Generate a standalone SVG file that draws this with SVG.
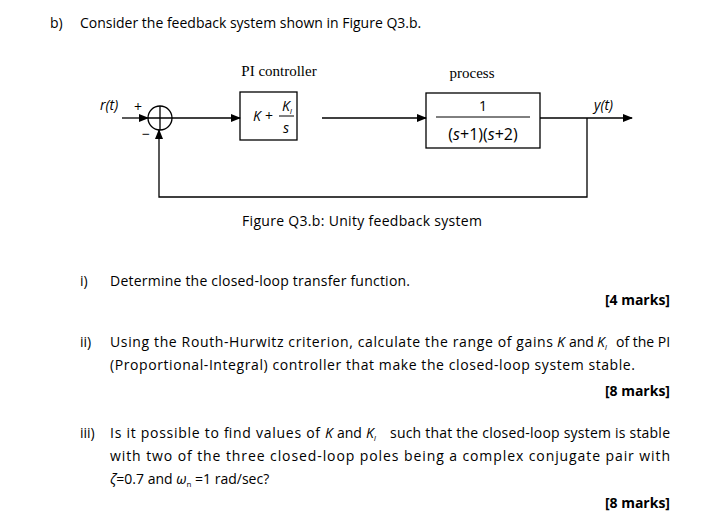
<svg xmlns="http://www.w3.org/2000/svg" width="725" height="516" viewBox="0 0 725 516">
<style>
.t{font-family:"Open Sans","Liberation Sans",sans-serif;font-size:14px;fill:#000}
.s{font-family:"Liberation Serif",serif;font-size:15px}
.m{font-family:"Open Sans","Liberation Sans",sans-serif;font-size:14px;font-style:italic}
.b{font-weight:bold}
.ln{stroke:#000;stroke-width:1.3;fill:none}
</style>
<defs><marker id="a" markerWidth="10" markerHeight="8" refX="9" refY="4" orient="auto" markerUnits="userSpaceOnUse"><path d="M0,0L10,4L0,8z"/></marker></defs>
<rect width="725" height="516" fill="#fff"/>
<text class="t" x="50" y="28">b)</text><text class="t" x="80" y="28">Consider the feedback system shown in Figure Q3.b.</text>
<g id="sum"><circle cx="160" cy="118" r="12" class="ln"/><path d="M148,118H172M160,106V130" class="ln"/>
<text class="m" x="100" y="110">r(t)</text><text class="t" x="134" y="112">+</text><text class="t" x="142" y="139">−</text></g>
<g id="pi"><text class="s" x="279" y="76" text-anchor="middle">PI controller</text><rect x="240" y="92" width="57" height="48" class="ln"/>
<text class="m" x="253" y="121">K</text><text class="t" x="265" y="121">+</text><line x1="279" y1="116" x2="294" y2="116" stroke="#000"/>
<text class="m" x="282" y="111">K<tspan style="font-size:8px" dy="3">I</tspan></text><text class="m" x="283" y="133">s</text></g>
<g id="process"><text class="s" x="472" y="78" text-anchor="middle">process</text><rect x="426" y="93" width="114" height="55" class="ln"/>
<text class="t" x="483" y="111" text-anchor="middle">1</text><line x1="436" y1="117" x2="530" y2="117" stroke="#000"/>
<text class="t" x="483" y="140" text-anchor="middle" style="font-size:16px">(<tspan font-style="italic">s</tspan>+1)(<tspan font-style="italic">s</tspan>+2)</text>
<text class="m" x="594" y="110">y(t)</text></g>
<g id="connectors">
<path d="M122,118H148" class="ln" marker-end="url(#a)"/>
<path d="M172,118H240" class="ln" marker-end="url(#a)"/>
<path d="M322,118H426" class="ln" marker-end="url(#a)"/>
<path d="M540,118H632" class="ln" marker-end="url(#a)"/>
<path d="M587,118V197H159V130" class="ln" marker-end="url(#a)"/>
</g>
<text class="t" x="242" y="226" textLength="240">Figure Q3.b:  Unity feedback system</text>
<text class="t" x="80" y="286">i)</text><text class="t" x="110" y="286" textLength="300">Determine the closed-loop transfer function.</text>
<text class="t b" x="670" y="305" text-anchor="end">[4 marks]</text>
<text class="t" x="80" y="347">ii)</text><text class="t" x="110" y="347" textLength="443">Using the Routh-Hurwitz criterion, calculate the range of gains</text>
<text class="m" x="557" y="347">K</text><text class="t" x="569" y="347">and</text><text class="m" x="597" y="347">K<tspan style="font-size:8px" dy="3">I</tspan></text><text class="t" x="616" y="347">of the PI</text>
<text class="t" x="110" y="370" textLength="525">(Proportional-Integral) controller that make the closed-loop system stable.</text>
<text class="t b" x="670" y="396" text-anchor="end">[8 marks]</text>
<text class="t" x="80" y="438">iii)</text><text class="t" x="110" y="438" textLength="210">Is it possible to find values of</text>
<text class="m" x="325" y="438">K</text><text class="t" x="337" y="438">and</text><text class="m" x="366" y="438">K<tspan style="font-size:8px" dy="3">I</tspan></text><text class="t" x="390" y="438" textLength="280">such that the closed-loop system is stable</text>
<text class="t" x="110" y="461" textLength="560">with two of the three closed-loop poles being a complex conjugate pair with</text>
<text class="t" x="110" y="484"><tspan font-style="italic">ζ</tspan>=0.7 and <tspan font-style="italic">ω</tspan><tspan style="font-size:8px" dy="3">n</tspan><tspan dy="-3"> =1 rad/sec?</tspan></text>
<text class="t b" x="670" y="508" text-anchor="end">[8 marks]</text>
</svg>
